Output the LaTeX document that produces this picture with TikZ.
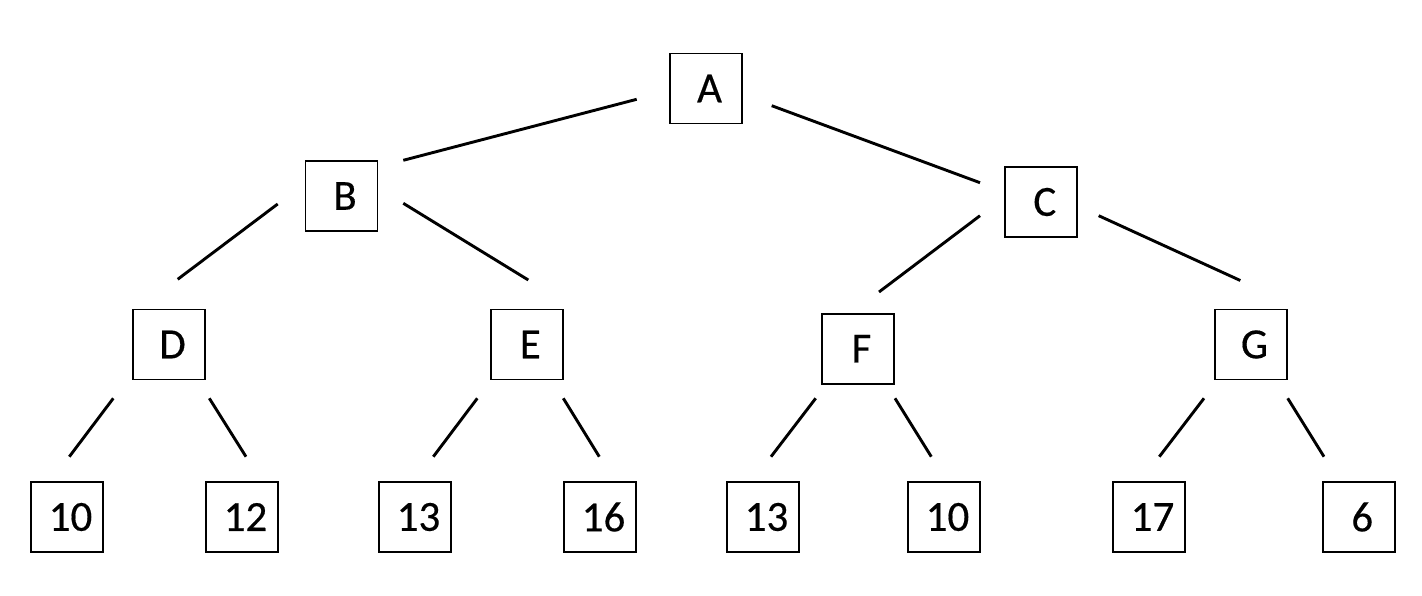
\documentclass[tikz,border=0pt]{standalone}
\usepackage{fontspec}
\setmainfont{Carlito}[FakeBold=0.3]
\newfontfamily\boxfont{Carlito}[FakeBold=0.35]
\begin{document}
\begin{tikzpicture}[x=1pt,y=-1pt,
  treebox/.style={draw=black, line width=1.8pt, minimum width=72pt, minimum height=70pt,
    inner sep=0pt, font=\boxfont\fontsize{43}{50}\selectfont, text=black},
  edge/.style={draw=black, line width=2.9pt}]
\useasboundingbox[fill=white] (0,0) rectangle (1422,596);
% internal nodes
\node[treebox] (A) at (706,88.5) {\hspace{7pt}A};
\node[treebox] (B) at (341.5,196) {\hspace{7pt}B};
\node[treebox] (C) at (1041.3,202) {\hspace{7pt}C};
\node[treebox] (D) at (169,344.5) {\hspace{7pt}D};
\node[treebox] (E) at (526.8,344.5) {\hspace{7pt}E};
\node[treebox] (F) at (858,348.7) {\hspace{7pt}F};
\node[treebox] (G) at (1251,344.5) {\hspace{7pt}G};
% leaves
\node[treebox] (L1) at (67,517) {\hspace{7pt}10};
\node[treebox] (L2) at (242,517) {\hspace{7pt}12};
\node[treebox] (L3) at (415,517) {\hspace{7pt}13};
\node[treebox] (L4) at (600,517) {\hspace{7pt}16};
\node[treebox] (L5) at (763,517) {\hspace{7pt}13};
\node[treebox] (L6) at (944,517) {\hspace{7pt}10};
\node[treebox] (L7) at (1149,517) {\hspace{7pt}17};
\node[treebox] (L8) at (1358.7,517) {\hspace{7pt}6};
% connector end points
\coordinate (AB1) at (636.7,99.3);   \coordinate (AB2) at (403.3,160.3);
\coordinate (AC1) at (771.7,105.7);  \coordinate (AC2) at (980,182.7);
\coordinate (BD1) at (277.7,204);    \coordinate (BD2) at (177.7,279.3);
\coordinate (BE1) at (403.3,203.3);  \coordinate (BE2) at (528.3,280);
\coordinate (CF1) at (980,215.7);    \coordinate (CF2) at (879,292);
\coordinate (CG1) at (1098.7,215.7); \coordinate (CG2) at (1240.3,280.5);
\coordinate (D11) at (113.3,398.3);  \coordinate (D12) at (69.3,456.7);
\coordinate (D21) at (209.3,398.3);  \coordinate (D22) at (246,456.7);
\coordinate (E11) at (477.3,398.3);  \coordinate (E12) at (433.3,456.7);
\coordinate (E21) at (563.3,398.3);  \coordinate (E22) at (599.3,456.7);
\coordinate (F11) at (815.7,398.3);  \coordinate (F12) at (771,456.7);
\coordinate (F21) at (895,398.3);    \coordinate (F22) at (931.3,456.7);
\coordinate (G11) at (1204,398.3);   \coordinate (G12) at (1159.3,456.7);
\coordinate (G21) at (1287.7,398.3); \coordinate (G22) at (1324,456.7);
% connectors
\draw[edge] (AB1) -- (AB2);
\draw[edge] (AC1) -- (AC2);
\draw[edge] (BD1) -- (BD2);
\draw[edge] (BE1) -- (BE2);
\draw[edge] (CF1) -- (CF2);
\draw[edge] (CG1) -- (CG2);
\draw[edge] (D11) -- (D12);
\draw[edge] (D21) -- (D22);
\draw[edge] (E11) -- (E12);
\draw[edge] (E21) -- (E22);
\draw[edge] (F11) -- (F12);
\draw[edge] (F21) -- (F22);
\draw[edge] (G11) -- (G12);
\draw[edge] (G21) -- (G22);
\end{tikzpicture}
\end{document}
